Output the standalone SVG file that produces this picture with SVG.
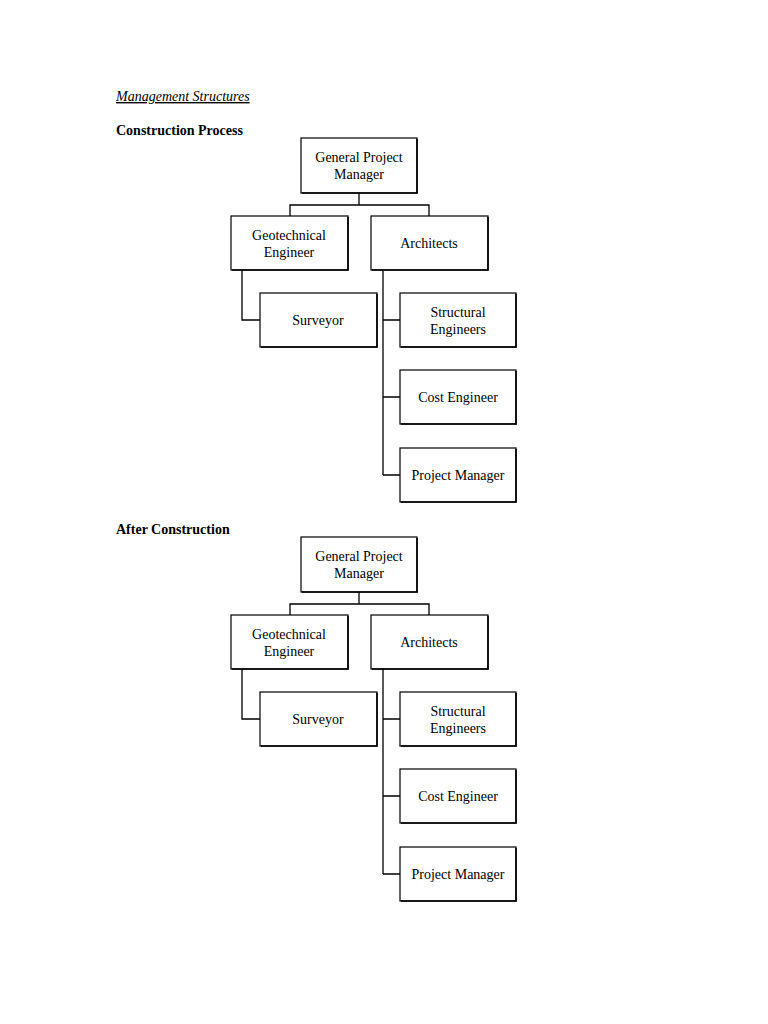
<svg xmlns="http://www.w3.org/2000/svg" width="768" height="1024" viewBox="0 0 768 1024">
<style>
text{font-family:"Liberation Serif",serif;font-size:14px;fill:#000}
.b rect{fill:#fff;stroke:#000;stroke-width:1.2}
.b path{fill:none;stroke:#000;stroke-width:1.6}
.c{fill:none;stroke:#000;stroke-width:1.3}
.m{text-anchor:middle}
</style>
<rect width="768" height="1024" fill="#fff"/>
<text x="116" y="101" font-style="italic" text-decoration="underline">Management Structures</text>
<text x="116" y="135" font-weight="bold">Construction Process</text>
<text x="116" y="534" font-weight="bold">After Construction</text>
<defs>
<g id="chart">
<g class="c">
<path d="M359 193V205M290 216V205H429V216"/>
<path d="M242 270V320H260"/>
<path d="M383 270V475M383 320H400M383 397H400M383 475H400"/>
</g>
<g class="b"><rect x="301" y="138" width="116" height="55"/><path d="M302 193H417V139"/><text class="m" x="359" y="162">General Project</text><text class="m" x="359" y="179">Manager</text></g>
<g class="b"><rect x="231" y="216" width="117" height="54"/><path d="M232 270H348V217"/><text class="m" x="289" y="240">Geotechnical</text><text class="m" x="289" y="257">Engineer</text></g>
<g class="b"><rect x="371" y="216" width="117" height="54"/><path d="M372 270H488V217"/><text class="m" x="429" y="248">Architects</text></g>
<g class="b"><rect x="260" y="293" width="117" height="54"/><path d="M261 347H377V294"/><text class="m" x="318" y="325">Surveyor</text></g>
<g class="b"><rect x="400" y="293" width="116" height="54"/><path d="M401 347H516V294"/><text class="m" x="458" y="317">Structural</text><text class="m" x="458" y="334">Engineers</text></g>
<g class="b"><rect x="400" y="370" width="116" height="54"/><path d="M401 424H516V371"/><text class="m" x="458" y="402">Cost Engineer</text></g>
<g class="b"><rect x="400" y="448" width="116" height="54"/><path d="M401 502H516V449"/><text class="m" x="458" y="480">Project Manager</text></g>
</g>
</defs>
<g id="construction-process"><use href="#chart"/></g>
<g id="after-construction" transform="translate(0,399)"><use href="#chart"/></g>
</svg>
